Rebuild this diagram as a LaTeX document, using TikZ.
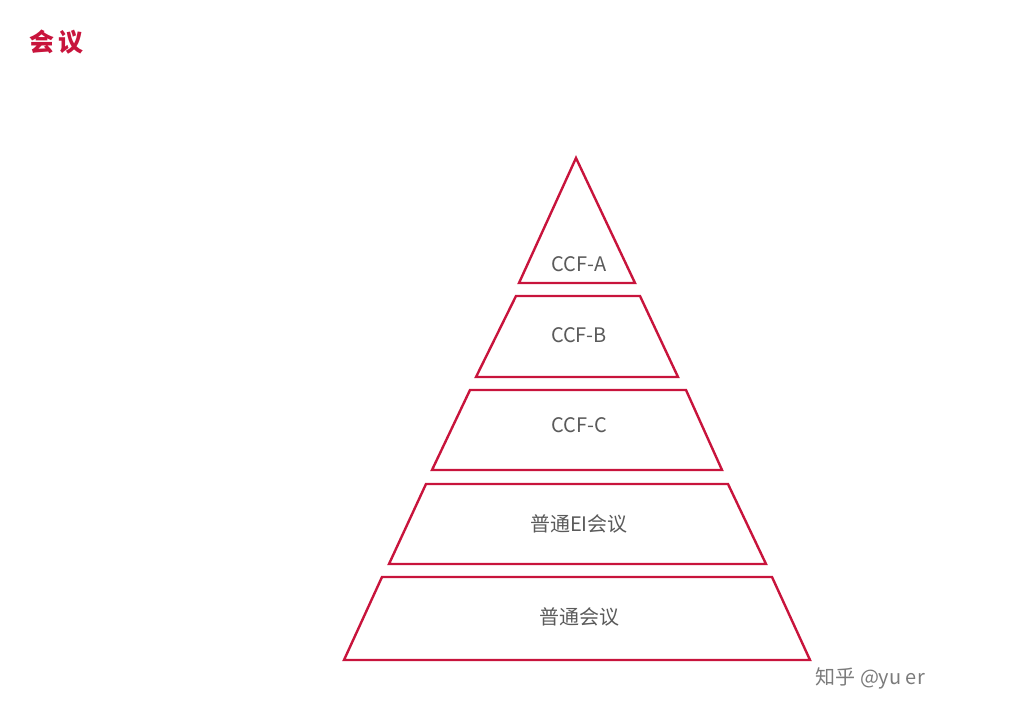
\documentclass[tikz,border=0pt]{standalone}
\usepackage{fontspec}
\setmainfont{Open Sans}
\newfontfamily\cjk{Noto Sans CJK SC}
\definecolor{cr}{RGB}{200,20,60}
\definecolor{tg}{RGB}{90,90,90}
\begin{document}
\begin{tikzpicture}[x=1pt,y=-1pt,
  lay/.style={draw=cr,line width=2.4pt,line join=miter},
  lab/.style={text=tg,font=\cjk\fontsize{20}{24}\selectfont}]
\useasboundingbox (0,0) rectangle (1010,722);
\draw[lay] (576,158) -- (635,283) -- (519,283) -- cycle;
\draw[lay] (516,296) -- (640,296) -- (678,377) -- (476,377) -- cycle;
\draw[lay] (470,390) -- (686,390) -- (722,470) -- (432,470) -- cycle;
\draw[lay] (426,484) -- (728,484) -- (766,564) -- (389,564) -- cycle;
\draw[lay] (382,577) -- (772,577) -- (810,660) -- (344,660) -- cycle;
\node[lab] (a) at (579,264) {CCF-A};
\node[lab] (b) at (579,335) {CCF-B};
\node[lab] (c) at (579,425) {CCF-C};
\node[lab] (d) at (579,524) {普通EI会议};
\node[lab] (e) at (579,617) {普通会议};
\node[text=cr,font=\cjk\bfseries\fontsize{25}{30}\selectfont,anchor=west] (t) at (26,42) {会\,议};
\node[text=tg!80,font=\cjk\fontsize{20}{24}\selectfont,anchor=west] (w) at (812,678) {知乎 @yu er};
\end{tikzpicture}
\end{document}
